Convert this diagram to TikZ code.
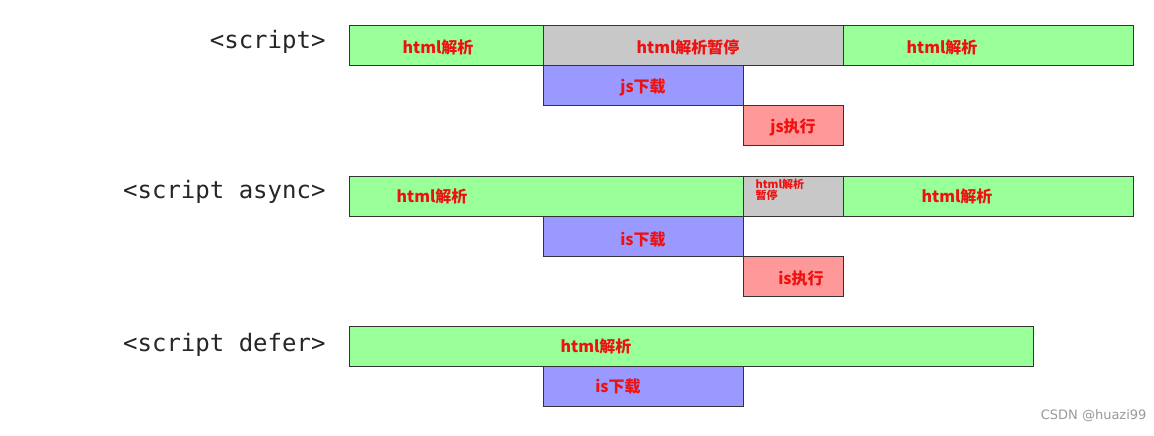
\documentclass[tikz,border=0pt]{standalone}
\usepackage{fontspec}
\setmainfont{DejaVu Sans}
\newfontfamily\cjk{Noto Sans CJK SC}
\newfontfamily\mono{DejaVu Sans Mono}
\definecolor{gbar}{HTML}{99FF99}
\definecolor{ybar}{HTML}{C8C8C8}
\definecolor{bbar}{HTML}{9999FF}
\definecolor{pbar}{HTML}{FF9999}
\definecolor{tred}{HTML}{EE1111}
\tikzset{
 bar/.style={draw=black!80,line width=1.2pt,anchor=north west,inner sep=0pt,font=\cjk\bfseries\fontsize{16}{18}\selectfont,text=tred},
 tag/.style={anchor=east,font=\mono\fontsize{24}{26}\selectfont,text=black!85}
}
\newcommand{\barbox}[6]{\node[bar,fill=#6,minimum width=#3-#1,minimum height=#4-#2] (#5) at (#1,#2) {};}
\begin{document}
\begin{tikzpicture}[x=1pt,y=-1pt]
\useasboundingbox (0,0) rectangle (1154,436);
\fill[white] (0,0) rectangle (1154,436);
% row 1
\barbox{349}{25}{543}{65}{a1}{gbar}
\barbox{543}{25}{843}{65}{a2}{ybar}
\barbox{843}{25}{1133}{65}{a3}{gbar}
\barbox{543}{65}{743}{105}{a4}{bbar}
\barbox{743}{105}{843}{145}{a5}{pbar}
\node[tag] (t1) at (329,42) {<script>};
\node[bar,draw=none,anchor=center] at (438,47) {html解析};
\node[bar,draw=none,anchor=center] at (688,47) {html解析暂停};
\node[bar,draw=none,anchor=center] at (942,47) {html解析};
\node[bar,draw=none,anchor=center] at (643,87) {js下载};
\node[bar,draw=none,anchor=center] at (793,127) {js执行};
% row 2
\barbox{349}{176}{743}{216}{b1}{gbar}
\barbox{743}{176}{843}{216}{b2}{ybar}
\barbox{843}{176}{1133}{216}{b3}{gbar}
\barbox{543}{216}{743}{256}{b4}{bbar}
\barbox{743}{256}{843}{296}{b5}{pbar}
\node[tag] (t2) at (329,192) {<script async>};
\node[bar,draw=none,anchor=center] at (432,196) {html解析};
\node[bar,draw=none,anchor=north west,align=left,font=\cjk\bfseries\fontsize{11}{12}\selectfont] at (755,178) {html解析\\[-1pt]暂停};
\node[bar,draw=none,anchor=center] at (957,196) {html解析};
\node[bar,draw=none,anchor=center] at (643,240) {is下载};
\node[bar,draw=none,anchor=center] at (801,278) {is执行};
% row 3
\barbox{349}{326}{1033}{366}{c1}{gbar}
\barbox{543}{366}{743}{406}{c2}{bbar}
\node[tag] (t3) at (329,345) {<script defer>};
\node[bar,draw=none,anchor=center] at (596,346) {html解析};
\node[bar,draw=none,anchor=center] at (618,387) {is下载};
\node[anchor=east,font=\fontsize{13}{14}\selectfont,text=black!40] (wm) at (1150,416) {CSDN @huazi99};
\end{tikzpicture}
\end{document}
